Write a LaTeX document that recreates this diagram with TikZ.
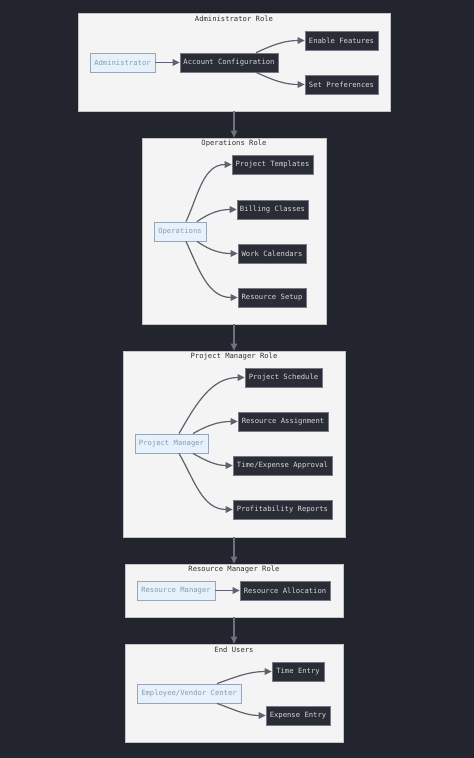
\documentclass[tikz,border=0pt]{standalone}
\usepackage{fontspec}
\setmonofont{DejaVu Sans Mono}
\usetikzlibrary{arrows.meta}
\definecolor{bg}{HTML}{22252D}
\definecolor{clfill}{HTML}{F4F4F4}
\definecolor{cldraw}{HTML}{C4C4C4}
\definecolor{dfill}{HTML}{2B2D36}
\definecolor{ddraw}{HTML}{767983}
\definecolor{dtext}{HTML}{D4D6DC}
\definecolor{lfill}{HTML}{E6F1FC}
\definecolor{ldraw}{HTML}{9AA6B5}
\definecolor{ltext}{HTML}{8C9BB2}
\definecolor{edge}{HTML}{5E6170}
\definecolor{cedge}{HTML}{6E717D}
\definecolor{ttext}{HTML}{333333}
\begin{document}
\begin{tikzpicture}[x=1pt,y=-1pt,
  every node/.style={font=\ttfamily\fontsize{7.2}{8.6}\selectfont},
  cluster/.style={draw=cldraw,fill=clfill,line width=0.8pt,inner sep=0pt},
  ctitle/.style={text=ttext,inner sep=0pt},
  dnode/.style={draw=ddraw,fill=dfill,text=dtext,line width=0.6pt,inner sep=0pt,minimum height=19pt},
  lnode/.style={draw=ldraw,fill=lfill,text=ltext,line width=0.8pt,inner sep=0pt,minimum height=19pt},
  arr/.style={draw=edge,line width=1.2pt,-{Triangle[length=7pt,width=6.5pt]}},
  carr/.style={arr,draw=cedge}
]
\fill[bg] (0,0) rectangle (474,758);
\useasboundingbox (0,0) rectangle (474,758);

% Administrator Role
\node[cluster,minimum width=312pt,minimum height=98pt] (admin) at (234,62) {};
\node[ctitle] (admint) at (234,18.5) {Administrator Role};
\node[lnode,minimum width=65pt] (adm) at (122.5,62.5) {Administrator};
\node[dnode,minimum width=98pt] (ac) at (229,62.5) {Account Configuration};
\node[dnode,minimum width=73pt] (ef) at (341.5,40.5) {Enable Features};
\node[dnode,minimum width=73pt] (sp) at (341.5,84.5) {Set Preferences};
\draw[arr] (adm) -- (ac);
\draw[arr] ([xshift=27pt]ac.north) to[out=25,in=180] (ef.west);
\draw[arr] ([xshift=27pt]ac.south) to[out=-25,in=180] (sp.west);

% Operations Role
\node[cluster,minimum width=184pt,minimum height=186pt] (ops) at (234,231) {};
\node[ctitle] (opst) at (234,143.5) {Operations Role};
\node[lnode,minimum width=52pt] (op) at (180,231.5) {Operations};
\node[dnode,minimum width=81pt] (pt) at (272.5,164.5) {Project Templates};
\node[dnode,minimum width=71pt] (bc) at (272.5,209.5) {Billing Classes};
\node[dnode,minimum width=68pt] (wc) at (272,253.5) {Work Calendars};
\node[dnode,minimum width=68pt] (rs) at (272,297.5) {Resource Setup};
\draw[arr] ([xshift=6pt]op.north) to[out=65,in=180] (pt.west);
\draw[arr] ([xshift=17pt]op.north) to[out=35,in=180] (bc.west);
\draw[arr] ([xshift=17pt]op.south) to[out=-35,in=180] (wc.west);
\draw[arr] ([xshift=6pt]op.south) to[out=-65,in=180] (rs.west);

% Project Manager Role
\node[cluster,minimum width=222pt,minimum height=186pt] (pm) at (234,444) {};
\node[ctitle] (pmt) at (234,356.5) {Project Manager Role};
\node[lnode,minimum width=73pt] (pmn) at (171.5,443.5) {Project Manager};
\node[dnode,minimum width=77pt] (ps) at (283.5,377.5) {Project Schedule};
\node[dnode,minimum width=90pt] (ra) at (283,421.5) {Resource Assignment};
\node[dnode,minimum width=99pt] (te) at (282.5,465.5) {Time/Expense Approval};
\node[dnode,minimum width=99pt] (pr) at (282.5,509.5) {Profitability Reports};
\draw[arr] ([xshift=7.5pt]pmn.north) to[out=60,in=180] (ps.west);
\draw[arr] ([xshift=21.5pt]pmn.north) to[out=30,in=180] (ra.west);
\draw[arr] ([xshift=21.5pt]pmn.south) to[out=-30,in=180] (te.west);
\draw[arr] ([xshift=7.5pt]pmn.south) to[out=-60,in=180] (pr.west);

% Resource Manager Role
\node[cluster,minimum width=218pt,minimum height=53pt] (rm) at (234,590.5) {};
\node[ctitle] (rmt) at (234,569.5) {Resource Manager Role};
\node[lnode,minimum width=78pt] (rmn) at (176,590.5) {Resource Manager};
\node[dnode,minimum width=90pt] (ral) at (285,590.5) {Resource Allocation};
\draw[arr] (rmn) -- (ral);

% End Users
\node[cluster,minimum width=218pt,minimum height=98pt] (eu) at (234,693) {};
\node[ctitle] (eut) at (234,649.5) {End Users};
\node[lnode,minimum width=104pt] (evc) at (189,693.5) {Employee/Vendor Center};
\node[dnode,minimum width=52pt] (ten) at (298,671.5) {Time Entry};
\node[dnode,minimum width=64pt] (ee) at (298,715.5) {Expense Entry};
\draw[arr] ([xshift=28pt]evc.north) to[out=20,in=180] (ten.west);
\draw[arr] ([xshift=28pt]evc.south) to[out=-20,in=180] (ee.west);

% cluster links
\draw[carr] (admin.south) -- (ops.north);
\draw[carr] (ops.south) -- (pm.north);
\draw[carr] (pm.south) -- (rm.north);
\draw[carr] (rm.south) -- (eu.north);
\end{tikzpicture}
\end{document}
